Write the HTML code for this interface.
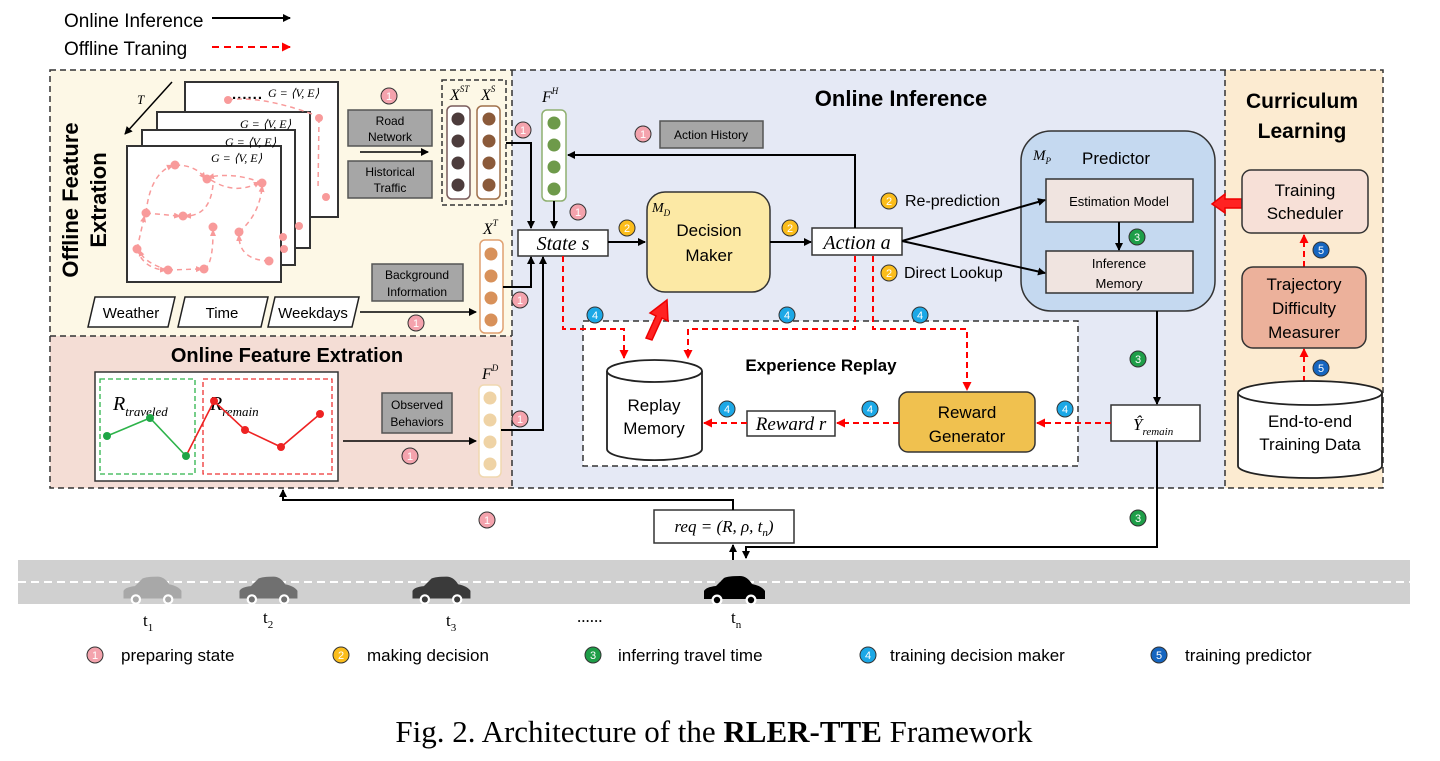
<!DOCTYPE html>
<html><head><meta charset="utf-8"><style>
html,body{margin:0;padding:0;background:#fff;}
svg{display:block;font-family:"Liberation Sans",sans-serif;}
.s{font-family:"Liberation Serif",serif;font-style:italic;}
</style></head><body>
<svg width="1440" height="761" viewBox="0 0 1440 761" xmlns="http://www.w3.org/2000/svg">
<defs>
<marker id="a" markerWidth="8" markerHeight="8" refX="7" refY="4" orient="auto" markerUnits="userSpaceOnUse"><path d="M0,0 L8,4 L0,8 z" fill="#000"/></marker>
<marker id="r" markerWidth="9" markerHeight="9" refX="8" refY="4.5" orient="auto" markerUnits="userSpaceOnUse"><path d="M0,0 L9,4.5 L0,9 z" fill="#f00"/></marker>
<marker id="p" markerWidth="8" markerHeight="8" refX="4" refY="4" orient="auto" markerUnits="userSpaceOnUse"><path d="M0,1 L7,4 L0,7 z" fill="#f89a9a"/></marker>
<g id="car"><path d="M-30,10 L-30,2 Q-28,-2 -18,-3 L-10,-11 Q-6,-13 6,-13 Q13,-13 18,-5 Q28,-3 31,2 L31,10 Z"/><circle cx="-17" cy="11" r="5.5" fill="#fff"/><circle cx="17" cy="11" r="5.5" fill="#fff"/><circle cx="-17" cy="11" r="3.2"/><circle cx="17" cy="11" r="3.2"/></g>
</defs>

<text x="64" y="27" font-size="19">Online Inference</text>
<line x1="212" y1="18" x2="290" y2="18" stroke="#000" stroke-width="2" marker-end="url(#a)"/>
<text x="64" y="55" font-size="19">Offline Traning</text>
<line x1="212" y1="47" x2="290" y2="47" stroke="#f00" stroke-width="2" stroke-dasharray="7,5" marker-end="url(#r)"/>

<rect x="50" y="70" width="462" height="266" fill="#fdf8e6"/>
<rect x="50" y="336" width="462" height="152" fill="#f4ddd5"/>
<rect x="512" y="70" width="713" height="418" fill="#e5e9f5"/>
<rect x="1225" y="70" width="158" height="418" fill="#fcebd1"/>
<g fill="none" stroke="#333" stroke-width="1.5" stroke-dasharray="6,4">
<rect x="50" y="70" width="1333" height="418"/>
<line x1="50" y1="336" x2="512" y2="336"/>
<line x1="512" y1="70" x2="512" y2="488"/>
<line x1="1225" y1="70" x2="1225" y2="488"/>
</g>

<text transform="translate(78,200) rotate(-90)" text-anchor="middle" font-size="22" font-weight="bold">Offline Feature</text>
<text transform="translate(106,200) rotate(-90)" text-anchor="middle" font-size="22" font-weight="bold">Extration</text>
<line x1="172" y1="82" x2="125" y2="134" stroke="#000" stroke-width="1.5" marker-end="url(#a)"/>
<text x="137" y="104" class="s" font-size="13">T</text>
<g stroke="#333" stroke-width="2" fill="#fff">
<rect x="185" y="82" width="153" height="135"/>
<rect x="157" y="112" width="153" height="136"/>
<rect x="142" y="130" width="153" height="135"/>
<rect x="127" y="146" width="154" height="136"/>
</g>
<text x="232" y="99" font-size="15" font-weight="bold" letter-spacing="1">......</text>
<text x="268" y="97" class="s" font-size="12">G = ⟨V, E⟩</text>
<text x="240" y="128" class="s" font-size="12">G = ⟨V, E⟩</text>
<text x="225" y="146" class="s" font-size="12">G = ⟨V, E⟩</text>
<text x="211" y="162" class="s" font-size="12">G = ⟨V, E⟩</text>
<g fill="#f89a9a"><circle cx="228" cy="100" r="4"/><circle cx="319" cy="118" r="4"/><circle cx="326" cy="197" r="4"/><circle cx="299" cy="226" r="4"/><circle cx="283" cy="237" r="4"/><circle cx="284" cy="249" r="4"/></g>
<path d="M228,100 Q260,95 315,115 M319,118 L318,190" stroke="#f89a9a" stroke-width="1.5" stroke-dasharray="5,4" fill="none"/>
<g stroke="#f89a9a" stroke-width="1.5" stroke-dasharray="5,4" fill="none" marker-end="url(#p)">
<path d="M146,213 Q150,175 171,166"/>
<path d="M175,165 Q195,165 204,177"/>
<path d="M262,183 Q235,172 210,177"/>
<path d="M211,180 Q235,195 258,183"/>
<path d="M213,185 Q210,215 187,216"/>
<path d="M146,213 L178,216"/>
<path d="M137,249 L144,218"/>
<path d="M168,270 Q145,263 140,252"/>
<path d="M137,249 Q143,268 164,270"/>
<path d="M168,270 L200,269"/>
<path d="M204,269 Q213,265 213,232"/>
<path d="M239,232 Q259,215 262,188"/>
<path d="M269,261 Q240,260 239,237"/>
</g>
<g fill="#f89a9a"><circle cx="175" cy="165" r="4.5"/><circle cx="207" cy="179" r="4.5"/><circle cx="262" cy="183" r="4.5"/><circle cx="146" cy="213" r="4.5"/><circle cx="183" cy="216" r="4.5"/><circle cx="213" cy="227" r="4.5"/><circle cx="239" cy="232" r="4.5"/><circle cx="137" cy="249" r="4.5"/><circle cx="168" cy="270" r="4.5"/><circle cx="204" cy="269" r="4.5"/><circle cx="269" cy="261" r="4.5"/></g>

<g fill="#a6a6a6" stroke="#555" stroke-width="1.5">
<rect x="348" y="110" width="84" height="36"/>
<rect x="348" y="161" width="84" height="37"/>
<rect x="372" y="264" width="91" height="37"/>
<rect x="382" y="393" width="70" height="40"/>
<rect x="660" y="121" width="103" height="27"/>
</g>
<g font-size="12" text-anchor="middle">
<text x="390" y="125">Road</text><text x="390" y="141">Network</text>
<text x="390" y="176">Historical</text><text x="390" y="192">Traffic</text>
<text x="417" y="279">Background</text><text x="417" y="296">Information</text>
<text x="417" y="409">Observed</text><text x="417" y="426">Behaviors</text>
<text x="711" y="139">Action History</text>
</g>
<line x1="360" y1="152" x2="428" y2="152" stroke="#000" stroke-width="1.5" marker-end="url(#a)"/>

<rect x="442" y="80" width="64" height="125" fill="none" stroke="#333" stroke-width="1.5" stroke-dasharray="5,3"/>
<text x="450" y="100" class="s" font-size="16">X<tspan font-size="9" dy="-8">ST</tspan></text>
<text x="481" y="100" class="s" font-size="16">X<tspan font-size="9" dy="-8">S</tspan></text>
<rect x="447" y="106" width="23" height="93" rx="5" fill="#fff" stroke="#7a5c5c" stroke-width="1.5"/>
<rect x="477" y="106" width="23" height="93" rx="5" fill="#fff" stroke="#a0704a" stroke-width="1.5"/>
<g fill="#4d3c3c"><circle cx="458" cy="119" r="6.5"/><circle cx="458" cy="141" r="6.5"/><circle cx="458" cy="163" r="6.5"/><circle cx="458" cy="185" r="6.5"/></g>
<g fill="#8b5a3a"><circle cx="489" cy="119" r="6.5"/><circle cx="489" cy="141" r="6.5"/><circle cx="489" cy="163" r="6.5"/><circle cx="489" cy="185" r="6.5"/></g>

<text x="483" y="234" class="s" font-size="16">X<tspan font-size="9" dy="-8">T</tspan></text>
<rect x="480" y="240" width="23" height="93" rx="5" fill="#fff" stroke="#e0a070" stroke-width="1.5"/>
<g fill="#d8915a"><circle cx="491" cy="254" r="6.5"/><circle cx="491" cy="276" r="6.5"/><circle cx="491" cy="298" r="6.5"/><circle cx="491" cy="320" r="6.5"/></g>

<g fill="#fff" stroke="#222" stroke-width="1.5">
<path d="M95,297 L175,297 L168,327 L88,327 Z"/>
<path d="M185,297 L268,297 L261,327 L178,327 Z"/>
<path d="M275,297 L359,297 L352,327 L268,327 Z"/>
</g>
<g font-size="15" text-anchor="middle"><text x="131" y="318">Weather</text><text x="222" y="318">Time</text><text x="313" y="318">Weekdays</text></g>
<line x1="360" y1="312" x2="476" y2="312" stroke="#000" stroke-width="1.5" marker-end="url(#a)"/>

<text x="287" y="362" text-anchor="middle" font-size="20" font-weight="bold">Online Feature Extration</text>
<rect x="95" y="372" width="243" height="109" fill="#fff" stroke="#333" stroke-width="1.5"/>
<rect x="100" y="379" width="95" height="95" fill="none" stroke="#2db34a" stroke-width="1.3" stroke-dasharray="5,3"/>
<rect x="203" y="379" width="129" height="95" fill="none" stroke="#e33" stroke-width="1.3" stroke-dasharray="5,3"/>
<text x="113" y="410" class="s" font-size="20">R<tspan font-size="13" dy="6">traveled</tspan></text>
<text x="210" y="410" class="s" font-size="20">R<tspan font-size="13" dy="6">remain</tspan></text>
<polyline points="107,436 150,418 186,456" fill="none" stroke="#2db34a" stroke-width="1.6"/>
<polyline points="186,456 214,401 245,430 281,447 320,414" fill="none" stroke="#e22" stroke-width="1.6"/>
<g fill="#1ea646"><circle cx="107" cy="436" r="4"/><circle cx="150" cy="418" r="4"/><circle cx="186" cy="456" r="4"/></g>
<g fill="#e22"><circle cx="214" cy="401" r="4"/><circle cx="245" cy="430" r="4"/><circle cx="281" cy="447" r="4"/><circle cx="320" cy="414" r="4"/></g>
<line x1="343" y1="441" x2="476" y2="441" stroke="#000" stroke-width="1.5" marker-end="url(#a)"/>
<text x="482" y="379" class="s" font-size="16">F<tspan font-size="9" dy="-8">D</tspan></text>
<rect x="479" y="385" width="22" height="92" rx="5" fill="#fff" stroke="#f0d8b0" stroke-width="1.5"/>
<g fill="#efd3a5"><circle cx="490" cy="398" r="6.5"/><circle cx="490" cy="420" r="6.5"/><circle cx="490" cy="442" r="6.5"/><circle cx="490" cy="464" r="6.5"/></g>

<text x="901" y="106" text-anchor="middle" font-size="22" font-weight="bold">Online Inference</text>
<text x="542" y="102" class="s" font-size="16">F<tspan font-size="9" dy="-8">H</tspan></text>
<rect x="542" y="110" width="24" height="91" rx="5" fill="#fff" stroke="#8fb070" stroke-width="1.5"/>
<g fill="#6e9a4a"><circle cx="554" cy="123" r="6.5"/><circle cx="554" cy="145" r="6.5"/><circle cx="554" cy="167" r="6.5"/><circle cx="554" cy="189" r="6.5"/></g>

<rect x="518" y="230" width="90" height="26" fill="#fff" stroke="#333" stroke-width="1.5"/>
<text x="563" y="250" text-anchor="middle" class="s" font-size="20">State s</text>
<rect x="647" y="192" width="123" height="100" rx="18" fill="#fce9a5" stroke="#333" stroke-width="1.5"/>
<text x="652" y="212" class="s" font-size="14">M<tspan font-size="9" dy="4">D</tspan></text>
<text x="709" y="236" text-anchor="middle" font-size="17">Decision</text>
<text x="709" y="261" text-anchor="middle" font-size="17">Maker</text>
<rect x="812" y="228" width="90" height="27" fill="#fff" stroke="#333" stroke-width="1.5"/>
<text x="857" y="249" text-anchor="middle" class="s" font-size="20">Action a</text>
<text x="905" y="206" font-size="16">Re-prediction</text>
<text x="904" y="278" font-size="16">Direct Lookup</text>

<rect x="1021" y="131" width="194" height="180" rx="30" fill="#c5d9f0" stroke="#333" stroke-width="1.5"/>
<text x="1033" y="160" class="s" font-size="15">M<tspan font-size="9" dy="4">P</tspan></text>
<text x="1082" y="164" font-size="17">Predictor</text>
<rect x="1046" y="179" width="147" height="43" fill="#f0e4e0" stroke="#333" stroke-width="1.5"/>
<text x="1119" y="206" text-anchor="middle" font-size="13">Estimation Model</text>
<rect x="1046" y="251" width="147" height="42" fill="#f0e4e0" stroke="#333" stroke-width="1.5"/>
<text x="1119" y="268" text-anchor="middle" font-size="13">Inference</text>
<text x="1119" y="288" text-anchor="middle" font-size="13">Memory</text>

<rect x="583" y="321" width="495" height="145" fill="#fff" stroke="#333" stroke-width="1.5" stroke-dasharray="6,4"/>
<text x="821" y="371" text-anchor="middle" font-size="17" font-weight="bold">Experience Replay</text>
<path d="M607,371 L607,449 A47,11 0 0 0 702,449 L702,371" fill="#fff" stroke="#222" stroke-width="1.8"/>
<ellipse cx="654.5" cy="371" rx="47.5" ry="11" fill="#fff" stroke="#222" stroke-width="1.8"/>
<text x="654" y="411" text-anchor="middle" font-size="17">Replay</text>
<text x="654" y="434" text-anchor="middle" font-size="17">Memory</text>
<rect x="747" y="411" width="88" height="25" fill="#fff" stroke="#333" stroke-width="1.5"/>
<text x="791" y="430" text-anchor="middle" class="s" font-size="19">Reward r</text>
<rect x="899" y="392" width="136" height="60" rx="9" fill="#f0c14f" stroke="#333" stroke-width="1.5"/>
<text x="967" y="418" text-anchor="middle" font-size="17">Reward</text>
<text x="967" y="442" text-anchor="middle" font-size="17">Generator</text>
<rect x="1111" y="405" width="89" height="36" fill="#fff" stroke="#333" stroke-width="1.5"/>
<text x="1133" y="430" class="s" font-size="17">Ŷ<tspan font-size="11" dy="5">remain</tspan></text>

<g stroke="#f00" stroke-width="2" stroke-dasharray="6,4" fill="none">
<polyline points="563,256 563,329 624,329 624,358" marker-end="url(#r)"/>
<polyline points="855,256 855,329 688,329 688,358" marker-end="url(#r)"/>
<polyline points="873,256 873,329 967,329 967,390" marker-end="url(#r)"/>
<line x1="1111" y1="423" x2="1037" y2="423" marker-end="url(#r)"/>
<line x1="899" y1="423" x2="837" y2="423" marker-end="url(#r)"/>
<line x1="747" y1="423" x2="704" y2="423" marker-end="url(#r)"/>
<line x1="1304" y1="267" x2="1304" y2="235" marker-end="url(#r)"/>
<line x1="1304" y1="382" x2="1304" y2="349" marker-end="url(#r)"/>
</g>
<path d="M646,338 L656,316 L650,313 L667,300 L668,321 L662,318 L652,340 Z" fill="#f22" stroke="#e00" stroke-width="1.5"/>
<path d="M1242,199 L1225,199 L1225,194 L1212,204 L1225,213 L1225,208 L1242,208 Z" fill="#f22" stroke="#e00" stroke-width="1.5"/>

<text x="1302" y="108" text-anchor="middle" font-size="21" font-weight="bold">Curriculum</text>
<text x="1302" y="138" text-anchor="middle" font-size="21" font-weight="bold">Learning</text>
<rect x="1242" y="170" width="126" height="63" rx="9" fill="#f7e0d7" stroke="#333" stroke-width="1.5"/>
<text x="1305" y="196" text-anchor="middle" font-size="17">Training</text>
<text x="1305" y="219" text-anchor="middle" font-size="17">Scheduler</text>
<rect x="1242" y="267" width="124" height="81" rx="11" fill="#ecb19b" stroke="#333" stroke-width="1.5"/>
<text x="1304" y="290" text-anchor="middle" font-size="17">Trajectory</text>
<text x="1304" y="314" text-anchor="middle" font-size="17">Difficulty</text>
<text x="1304" y="338" text-anchor="middle" font-size="17">Measurer</text>
<path d="M1238,393 L1238,466 A72,12 0 0 0 1382,466 L1382,393" fill="#fff" stroke="#222" stroke-width="1.8"/>
<ellipse cx="1310" cy="393" rx="72" ry="12" fill="#fff" stroke="#222" stroke-width="1.8"/>
<text x="1310" y="427" text-anchor="middle" font-size="17">End-to-end</text>
<text x="1310" y="450" text-anchor="middle" font-size="17">Training Data</text>

<rect x="654" y="510" width="140" height="33" fill="#fff" stroke="#333" stroke-width="1.5"/>
<text x="724" y="532" text-anchor="middle" class="s" font-size="17">req = (R, ρ, t<tspan font-size="11" dy="4">n</tspan><tspan dy="-4">)</tspan></text>

<rect x="18" y="560" width="1392" height="44" fill="#d0d0d0"/>
<line x1="18" y1="582" x2="1410" y2="582" stroke="#fff" stroke-width="2" stroke-dasharray="8,5"/>
<use href="#car" transform="translate(152,589) scale(0.95)" fill="#a8a8a8"/>
<use href="#car" transform="translate(268,589) scale(0.95)" fill="#707070"/>
<use href="#car" transform="translate(441,589) scale(0.95)" fill="#3a3a3a"/>
<use href="#car" transform="translate(734,589)" fill="#000"/>
<g font-family="Liberation Serif,serif" font-size="17">
<text x="143" y="626">t<tspan font-size="11" dy="5">1</tspan></text>
<text x="263" y="623">t<tspan font-size="11" dy="5">2</tspan></text>
<text x="446" y="626">t<tspan font-size="11" dy="5">3</tspan></text>
<text x="577" y="622">......</text>
<text x="731" y="623">t<tspan font-size="11" dy="5">n</tspan></text>
</g>

<!-- black connectors (drawn on top) -->
<g stroke="#000" stroke-width="2" fill="none">
<polyline points="506,143 531,143 531,228" marker-end="url(#a)"/>
<polyline points="503,287 531,287 531,257" marker-end="url(#a)"/>
<polyline points="501,430 543,430 543,257" marker-end="url(#a)"/>
<line x1="554" y1="201" x2="554" y2="228" marker-end="url(#a)"/>
<line x1="608" y1="242" x2="645" y2="242" marker-end="url(#a)"/>
<line x1="770" y1="242" x2="811" y2="242" marker-end="url(#a)"/>
<polyline points="855,228 855,155 568,155" marker-end="url(#a)"/>
<line x1="902" y1="241" x2="1045" y2="200" marker-end="url(#a)"/>
<line x1="902" y1="241" x2="1045" y2="273" marker-end="url(#a)"/>
<line x1="1119" y1="222" x2="1119" y2="250" marker-end="url(#a)"/>
<line x1="1157" y1="311" x2="1157" y2="404" marker-end="url(#a)"/>
<polyline points="1157,441 1157,547 746,547 746,558" marker-end="url(#a)"/>
<polyline points="733,510 733,500 283,500 283,490" marker-end="url(#a)"/>
<line x1="733" y1="560" x2="733" y2="545" marker-end="url(#a)"/>
</g>

<g font-size="17">
<text x="121" y="661">preparing state</text>
<text x="367" y="661">making decision</text>
<text x="618" y="661">inferring travel time</text>
<text x="890" y="661">training decision maker</text>
<text x="1185" y="661">training predictor</text>
</g>

<g font-size="11" text-anchor="middle" stroke-width="1">
<g fill="#f4a3ad" stroke="#333">
<circle cx="389" cy="96" r="8"/><circle cx="523" cy="130" r="8"/><circle cx="578" cy="212" r="8"/><circle cx="643" cy="134" r="8"/><circle cx="520" cy="300" r="8"/><circle cx="416" cy="323" r="8"/><circle cx="520" cy="419" r="8"/><circle cx="410" cy="456" r="8"/><circle cx="487" cy="520" r="8"/><circle cx="95" cy="655" r="8"/>
</g>
<g fill="#fbbd1b" stroke="#333">
<circle cx="627" cy="228" r="8"/><circle cx="790" cy="228" r="8"/><circle cx="889" cy="201" r="8"/><circle cx="889" cy="273" r="8"/><circle cx="341" cy="655" r="8"/>
</g>
<g fill="#1e9e48" stroke="#333">
<circle cx="1137" cy="237" r="8"/><circle cx="1138" cy="359" r="8"/><circle cx="1138" cy="518" r="8"/><circle cx="593" cy="655" r="8"/>
</g>
<g fill="#1ca8e6" stroke="#333">
<circle cx="595" cy="315" r="8"/><circle cx="787" cy="315" r="8"/><circle cx="920" cy="315" r="8"/><circle cx="1065" cy="409" r="8"/><circle cx="870" cy="409" r="8"/><circle cx="727" cy="409" r="8"/><circle cx="868" cy="655" r="8"/>
</g>
<g fill="#1565c0" stroke="#333">
<circle cx="1321" cy="250" r="8"/><circle cx="1321" cy="368" r="8"/><circle cx="1159" cy="655" r="8"/>
</g>
<g fill="#fff" stroke="none">
<text x="389" y="100">1</text><text x="523" y="134">1</text><text x="578" y="216">1</text><text x="643" y="138">1</text><text x="520" y="304">1</text><text x="416" y="327">1</text><text x="520" y="423">1</text><text x="410" y="460">1</text><text x="487" y="524">1</text><text x="95" y="659">1</text>
<text x="627" y="232">2</text><text x="790" y="232">2</text><text x="889" y="205">2</text><text x="889" y="277">2</text><text x="341" y="659">2</text>
<text x="1137" y="241">3</text><text x="1138" y="363">3</text><text x="1138" y="522">3</text><text x="593" y="659">3</text>
<text x="595" y="319">4</text><text x="787" y="319">4</text><text x="920" y="319">4</text><text x="1065" y="413">4</text><text x="870" y="413">4</text><text x="727" y="413">4</text><text x="868" y="659">4</text>
<text x="1321" y="254">5</text><text x="1321" y="372">5</text><text x="1159" y="659">5</text>
</g>
</g>

<text x="714" y="742" text-anchor="middle" font-family="Liberation Serif,serif" font-size="31">Fig. 2.  Architecture of the <tspan font-weight="bold">RLER-TTE</tspan> Framework</text>
</svg>
</body></html>
